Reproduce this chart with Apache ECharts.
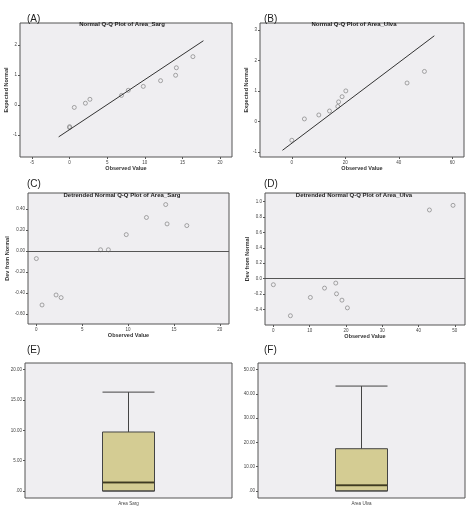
<!DOCTYPE html>
<html><head><meta charset="utf-8">
<script src="https://cdn.jsdelivr.net/npm/echarts@6/dist/echarts.min.js"></script>
<style>html,body{margin:0;padding:0;background:#fff}#c{width:474px;height:514px}</style>
</head><body><div id="c"></div>
<script>
// Q-Q Sarg
const sargObs = [0, 0, 0.62, 2.1, 2.7, 6.9, 7.8, 9.8, 12.1, 14.1, 14.2, 16.4];
const sargExp = [-0.72, -0.75, -0.08, 0.06, 0.19, 0.32, 0.49, 0.62, 0.81, 0.99, 1.24, 1.61];
const sargLineX = [-1.46, 17.8];
const sargLineY = [-1.06, 2.14];
// Q-Q Ulva
const ulvaObs = [0, 4.7, 10.1, 14.1, 17.2, 17.5, 18.8, 20.2, 43.1, 49.6];
const ulvaExp = [-0.62, 0.08, 0.21, 0.34, 0.49, 0.64, 0.81, 1.0, 1.26, 1.64];
const ulvaLineX = [-3.5, 53.3];
const ulvaLineY = [-0.95, 2.81];
// Detrended Sarg
const dSargObs = [0, 0.62, 2.15, 2.7, 7.0, 7.85, 9.8, 12.0, 14.1, 14.25, 16.4];
const dSargDev = [-0.074, -0.515, -0.42, -0.445, 0.01, 0.01, 0.154, 0.317, 0.44, 0.256, 0.24];
// Detrended Ulva
const dUlvaObs = [0, 4.7, 10.2, 14.1, 17.2, 17.4, 18.9, 20.4, 43.0, 49.5];
const dUlvaDev = [-0.078, -0.48, -0.243, -0.122, -0.057, -0.196, -0.278, -0.378, 0.89, 0.95];
// Boxplots [min, Q1, median, Q3, max]
const boxSarg = [0, 0, 1.42, 9.73, 16.3];
const boxUlva = [0, 0, 2.3, 17.4, 43.2];
const boxCats = [["Area Sarg"], ["Area Ulva"]];
// ticks
const ticksAx = [-5, 0, 5, 10, 15, 20], ticksAy = [-1, 0, 1, 2];
const ticksBx = [0, 20, 40, 60], ticksBy = [-1, 0, 1, 2, 3];
const ticksCx = [0, 5, 10, 15, 20], ticksCy = [-0.6, -0.4, -0.2, 0, 0.2, 0.4];
const ticksDx = [0, 10, 20, 30, 40, 50], ticksDy = [-0.4, -0.2, 0, 0.2, 0.4, 0.6, 0.8, 1.0];
const ticksEy = [0, 5, 10, 15, 20], ticksFy = [0, 10, 20, 30, 40, 50];

const zip = (a, b) => a.map((v, i) => [v, b[i]]);
const grids = [
  {left: 20, top: 23, width: 212, height: 134},
  {left: 260, top: 23, width: 204, height: 134},
  {left: 28, top: 193, width: 201, height: 131},
  {left: 265, top: 193, width: 200, height: 132},
  {left: 25, top: 363, width: 207, height: 135},
  {left: 258, top: 363, width: 207, height: 135}
].map(g => Object.assign(g, {show: true, backgroundColor: '#efeef1', borderColor: '#555', borderWidth: 1}));

const lblStyle = {fontSize: 4.5, color: '#444', fontFamily: 'Liberation Sans'};
function valAxis(gi, min, max, ticks, fmt, name, gap) {
  return {
    type: 'value', gridIndex: gi, min, max, splitLine: {show: false},
    axisLine: {show: false, onZero: false},
    axisTick: {show: true, length: 2, customValues: ticks, lineStyle: {color: '#555'}},
    axisLabel: Object.assign({customValues: ticks, margin: 3, formatter: fmt}, lblStyle),
    name: name || '', nameLocation: 'middle', nameGap: gap || 10,
    nameTextStyle: {fontSize: 5.5, fontWeight: 'bold', color: '#333', fontFamily: 'Liberation Sans'}
  };
}
const f0 = v => String(v);
const f2 = v => v.toFixed(2);
const f1 = v => v.toFixed(1);
const fb = v => v === 0 ? '.00' : v.toFixed(2);

const circ = {type: 'scatter', symbol: 'circle', symbolSize: 4,
  itemStyle: {color: 'rgba(0,0,0,0)', borderColor: '#777', borderWidth: 0.8}};
const refLine = {type: 'line', symbol: 'none', lineStyle: {color: '#333', width: 1}, silent: true};
const hline = y => ({silent: true, symbol: 'none', label: {show: false},
  lineStyle: {color: '#555', width: 1, type: 'solid'}, data: [{yAxis: y}]});

const catAxis = (gi, cats) => ({type: 'category', gridIndex: gi, data: cats,
  axisTick: {length: 2, alignWithLabel: true}, axisLine: {show: false, onZero: false},
  axisLabel: Object.assign({margin: 3}, lblStyle)});
const xAxes = [
  valAxis(0, -6.6, 21.6, ticksAx, f0, 'Observed Value', 8),
  valAxis(1, -11.9, 64.4, ticksBx, f0, 'Observed Value', 8),
  valAxis(2, -0.91, 21.0, ticksCx, f0, 'Observed Value', 8),
  valAxis(3, -2.3, 52.8, ticksDx, f0, 'Observed Value', 8),
  catAxis(4, boxCats[0]),
  catAxis(5, boxCats[1])
];
const yAxes = [
  valAxis(0, -1.73, 2.73, ticksAy, f0, 'Expected Normal', 9),
  valAxis(1, -1.17, 3.23, ticksBy, f0, 'Expected Normal', 9),
  valAxis(2, -0.696, 0.55, ticksCy, f2, 'Dev from Normal', 17),
  valAxis(3, -0.60, 1.11, ticksDy, f1, 'Dev from Normal', 13),
  valAxis(4, -1.15, 21.1, ticksEy, fb, '', 10),
  valAxis(5, -2.9, 52.7, ticksFy, fb, '', 10)
];

const boxStyle = {color: '#d4cc93', borderColor: '#444', borderWidth: 1};
const series = [
  Object.assign({}, refLine, {xAxisIndex: 0, yAxisIndex: 0, data: zip(sargLineX, sargLineY)}),
  Object.assign({}, circ, {xAxisIndex: 0, yAxisIndex: 0, data: zip(sargObs, sargExp)}),
  Object.assign({}, refLine, {xAxisIndex: 1, yAxisIndex: 1, data: zip(ulvaLineX, ulvaLineY)}),
  Object.assign({}, circ, {xAxisIndex: 1, yAxisIndex: 1, data: zip(ulvaObs, ulvaExp)}),
  Object.assign({}, circ, {xAxisIndex: 2, yAxisIndex: 2, data: zip(dSargObs, dSargDev), markLine: hline(0)}),
  Object.assign({}, circ, {xAxisIndex: 3, yAxisIndex: 3, data: zip(dUlvaObs, dUlvaDev), markLine: hline(0)}),
  {type: 'boxplot', xAxisIndex: 4, yAxisIndex: 4, data: [boxSarg], boxWidth: [52, 52], itemStyle: boxStyle},
  {type: 'boxplot', xAxisIndex: 5, yAxisIndex: 5, data: [boxUlva], boxWidth: [52, 52], itemStyle: boxStyle},
  {type: 'scatter', xAxisIndex: 4, yAxisIndex: 4, symbol: 'rect', symbolSize: [51, 2], itemStyle: {color: '#3a3418'}, data: [[0, boxSarg[2]]], silent: true},
  {type: 'scatter', xAxisIndex: 5, yAxisIndex: 5, symbol: 'rect', symbolSize: [51, 2], itemStyle: {color: '#3a3418'}, data: [[0, boxUlva[2]]], silent: true}
];

const T = (text, left, top, size, bold) => ({text, left, top, textStyle: {fontSize: size, fontWeight: bold ? 'bold' : 'normal', color: '#222', fontFamily: 'Liberation Sans'}});
const titles = [
  T('(A)', 22, 9, 10), T('(B)', 259, 9, 10), T('(C)', 22, 174, 10), T('(D)', 259, 174, 10), T('(E)', 22, 340, 10), T('(F)', 259, 340, 10),
  Object.assign(T('Normal Q-Q Plot of Area_Sarg', 117, 16, 6, true), {textAlign: 'center'}),
  Object.assign(T('Normal Q-Q Plot of Area_Ulva', 349, 16, 6, true), {textAlign: 'center'}),
  Object.assign(T('Detrended Normal Q-Q Plot of Area_Sarg', 117, 187, 6, true), {textAlign: 'center'}),
  Object.assign(T('Detrended Normal Q-Q Plot of Area_Ulva', 349, 187, 6, true), {textAlign: 'center'})
];

const chart = echarts.init(document.getElementById('c'), null, {renderer: 'canvas'});
chart.setOption({animation: false, title: titles, grid: grids, xAxis: xAxes, yAxis: yAxes, series});
</script></body></html>
